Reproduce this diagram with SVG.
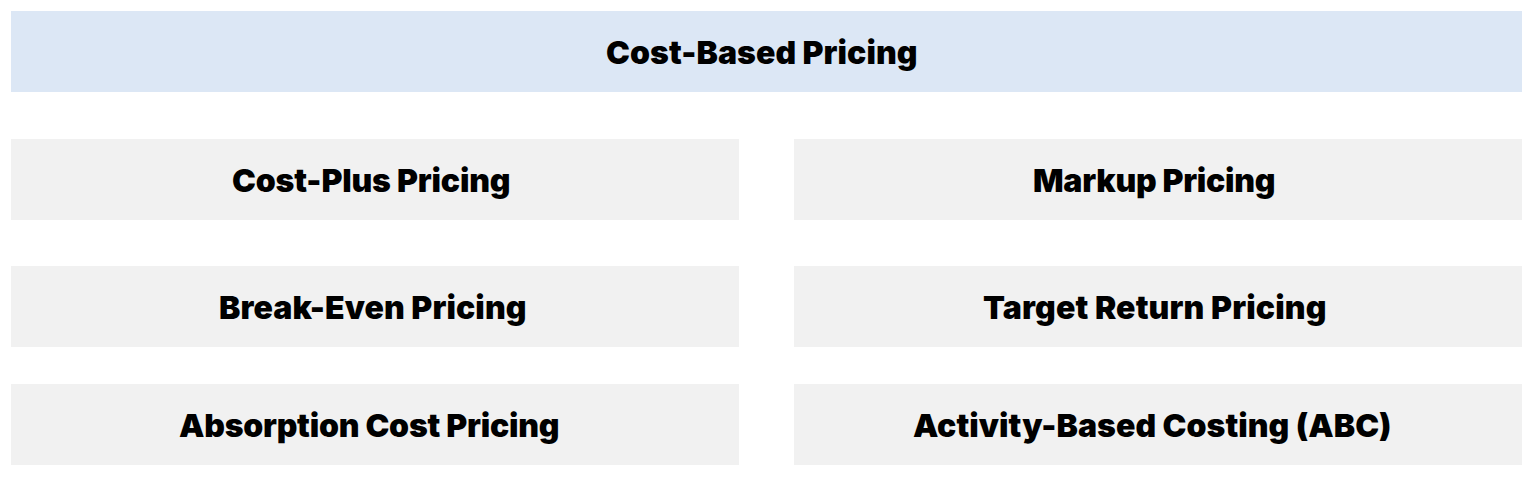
<svg xmlns="http://www.w3.org/2000/svg" width="1536" height="478" viewBox="0 0 1536 478">
<style>
.hdr{fill:#dce7f5}
.box{fill:#f1f1f1}
text{font-family:Inter,"Liberation Sans",sans-serif;font-weight:900;font-size:32px;fill:#000;text-anchor:middle;dominant-baseline:central;letter-spacing:-0.5px}
</style>
<rect width="1536" height="478" fill="#fff"/>
<g id="cost-based">
<rect class="hdr" x="11" y="11" width="1511" height="81"/>
<text x="761.5" y="52" textLength="311" lengthAdjust="spacing">Cost-Based Pricing</text>
</g>
<g id="cost-plus">
<rect class="box" x="11" y="139" width="728" height="81"/>
<text x="371" y="180" textLength="278" lengthAdjust="spacing">Cost-Plus Pricing</text>
</g>
<g id="markup">
<rect class="box" x="794" y="139" width="728" height="81"/>
<text x="1154" y="180" textLength="242" lengthAdjust="spacing">Markup Pricing</text>
</g>
<g id="break-even">
<rect class="box" x="11" y="266" width="728" height="81"/>
<text x="372.5" y="307" textLength="307" lengthAdjust="spacing">Break-Even Pricing</text>
</g>
<g id="target-return">
<rect class="box" x="794" y="266" width="728" height="81"/>
<text x="1154.5" y="307" textLength="343" lengthAdjust="spacing">Target Return Pricing</text>
</g>
<g id="absorption">
<rect class="box" x="11" y="384" width="728" height="81"/>
<text x="369" y="425" textLength="380" lengthAdjust="spacing">Absorption Cost Pricing</text>
</g>
<g id="abc">
<rect class="box" x="794" y="384" width="728" height="81"/>
<text x="1152" y="425" textLength="478" lengthAdjust="spacing">Activity-Based Costing (ABC)</text>
</g>
<g id="connectors"></g>
</svg>
